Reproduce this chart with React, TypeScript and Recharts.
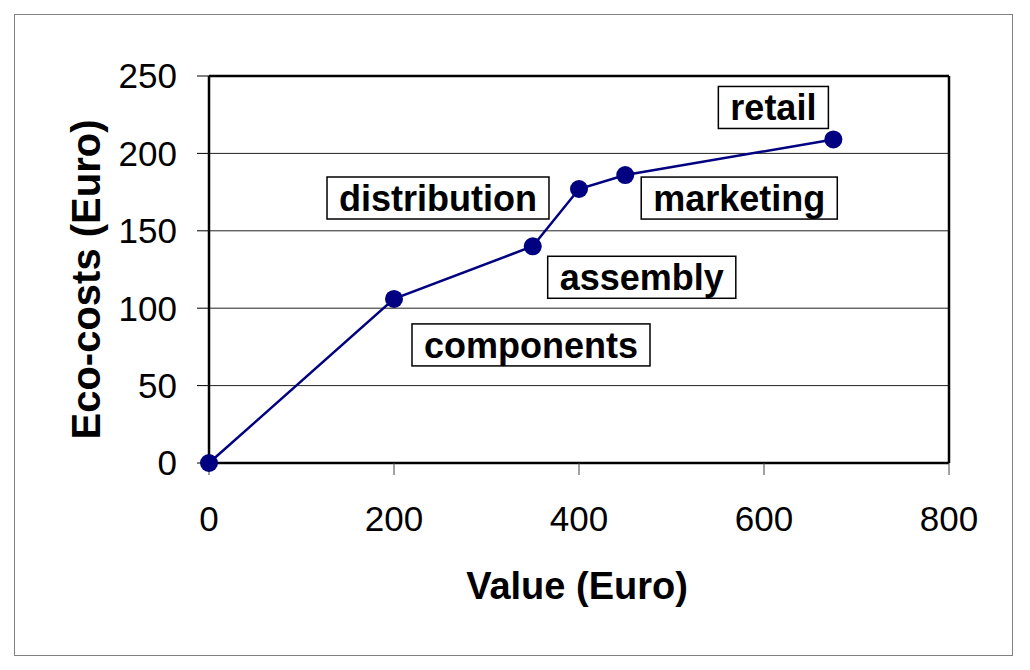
import {
  LineChart,
  Line,
  XAxis,
  YAxis,
  CartesianGrid,
  ReferenceLine,
  LabelList,
} from "recharts";

const valueEuro = [0, 200, 350, 400, 450, 675];
const ecoCosts = [0, 106, 140, 177, 186, 209];
const stages = ["", "components", "assembly", "distribution", "marketing", "retail"];
const xTicks = [0, 200, 400, 600, 800];
const yTicks = [0, 50, 100, 150, 200, 250];

const data = valueEuro.map((v, i) => ({ value: v, eco: ecoCosts[i], stage: stages[i] }));

const FONT = '"Liberation Sans", Arial, sans-serif';
const NAVY = "#000080";
const LABEL_SIZE = 36;

// where each stage box sits relative to its point (px)
const boxShift: Record<string, [number, number]> = {
  components: [137, 46],
  assembly: [109, 31],
  distribution: [-141, 9],
  marketing: [114, 23],
  retail: [-60, -32],
};

const ctx =
  typeof document !== "undefined" ? document.createElement("canvas").getContext("2d") : null;

function textWidth(s: string) {
  if (!ctx) return s.length * 20;
  ctx.font = `bold ${LABEL_SIZE}px ${FONT}`;
  return ctx.measureText(s).width;
}

function StageBox(props: any) {
  const idx = props.index;
  const name: string = props.value || (idx != null ? stages[idx] : "");
  if (!name || !boxShift[name]) return null;
  const x = props.x ?? props.viewBox?.x;
  const y = props.y ?? props.viewBox?.y;
  const [dx, dy] = boxShift[name];
  const w = textWidth(name) + 24;
  const h = 42;
  const cx = x + dx;
  const cy = y + dy;
  return (
    <g>
      <rect x={cx - w / 2} y={cy - h / 2} width={w} height={h} fill="#fff" stroke="#000" strokeWidth={1.5} />
      <text
        x={cx}
        y={cy + 13}
        textAnchor="middle"
        fontSize={LABEL_SIZE}
        fontWeight="bold"
        fontFamily={FONT}
        fill="#000"
      >
        {name}
      </text>
    </g>
  );
}

function XTitle(props: any) {
  const vb = props.viewBox;
  return (
    <text
      x={vb.x + vb.width / 2 - 2}
      y={vb.y + 136}
      textAnchor="middle"
      fontSize={38}
      fontWeight="bold"
      fontFamily={FONT}
      fill="#000"
    >
      Value (Euro)
    </text>
  );
}

function YTitle(props: any) {
  const vb = props.viewBox;
  const x = vb.x + 100;
  const y = vb.y + vb.height / 2 + 10;
  return (
    <text
      x={x}
      y={y}
      transform={`rotate(-90, ${x}, ${y})`}
      textAnchor="middle"
      fontSize={40}
      fontWeight="bold"
      fontFamily={FONT}
      fill="#000"
    >
      Eco-costs (Euro)
    </text>
  );
}

export default function App() {
  return (
    <div style={{ position: "absolute", left: 0, top: 0, width: 1030, height: 670, background: "#fff" }}>
      <LineChart
        width={1030}
        height={670}
        data={data}
        margin={{ top: 76, right: 81, bottom: 0, left: 0 }}
      >
        <CartesianGrid vertical={false} stroke="#222" strokeWidth={1} />
        <XAxis
          type="number"
          dataKey="value"
          domain={[0, 800]}
          ticks={xTicks}
          height={207}
          tickSize={12}
          tickMargin={31}
          axisLine={{ stroke: "#000", strokeWidth: 2.5 }}
          tickLine={{ stroke: "#444" }}
          tick={{ fill: "#000", fontSize: 35, fontFamily: FONT }}
          label={{ content: XTitle }}
        />
        <YAxis
          type="number"
          domain={[0, 250]}
          ticks={yTicks}
          width={209}
          tickSize={12}
          tickMargin={20}
          axisLine={{ stroke: "#000", strokeWidth: 2.5 }}
          tickLine={{ stroke: "#000" }}
          tick={{ fill: "#000", fontSize: 35, fontFamily: FONT }}
          label={{ content: YTitle }}
        />
        <ReferenceLine y={250} stroke="#000" strokeWidth={2.5} />
        <ReferenceLine x={800} stroke="#000" strokeWidth={2.5} />
        <Line
          type="linear"
          dataKey="eco"
          stroke={NAVY}
          strokeWidth={2.5}
          dot={{ r: 9, fill: NAVY, stroke: NAVY, strokeWidth: 0 }}
          isAnimationActive={false}
        >
          <LabelList dataKey="stage" content={StageBox} />
        </Line>
      </LineChart>
      <div
        style={{
          position: "absolute",
          left: 14,
          top: 14,
          width: 997,
          height: 640,
          border: "1.5px solid #808080",
          pointerEvents: "none",
        }}
      />
    </div>
  );
}
